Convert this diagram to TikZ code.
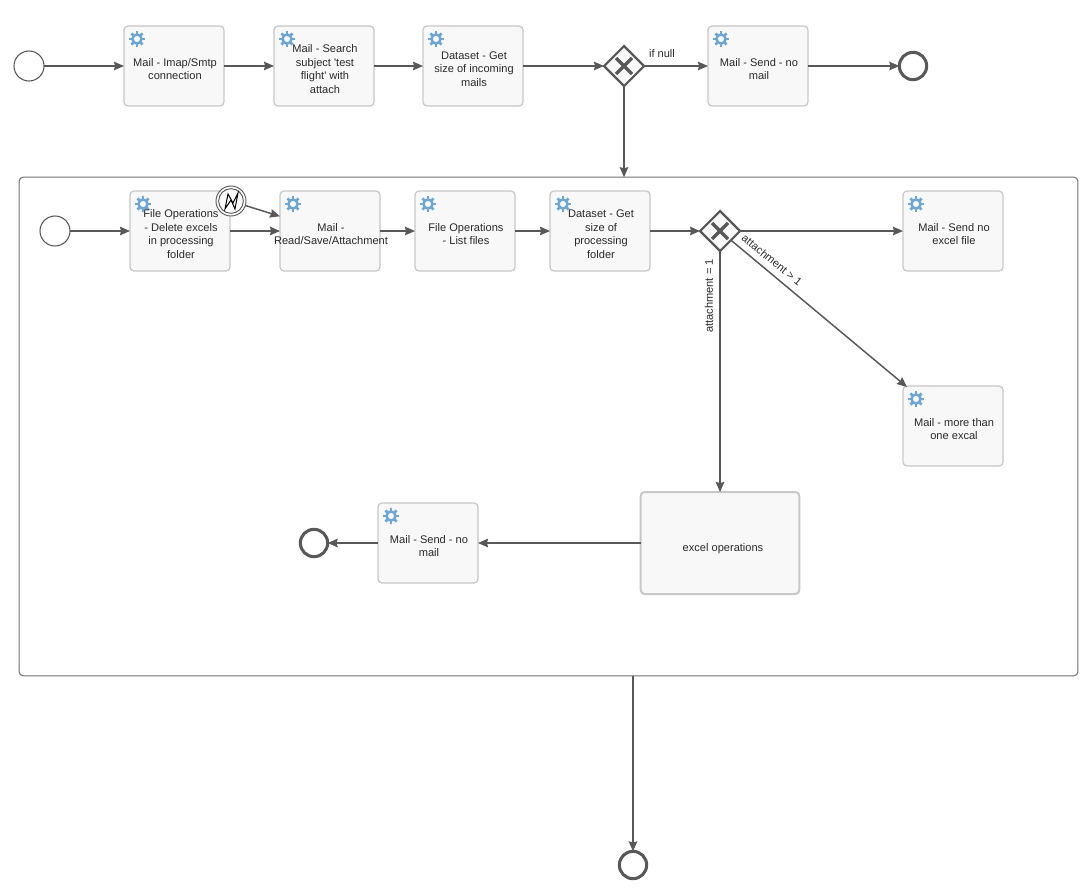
\documentclass[tikz,border=0pt]{standalone}
\usepackage{fontspec}
\setmainfont{Liberation Sans}
\usetikzlibrary{arrows.meta}
\usetikzlibrary{shapes.geometric}

\definecolor{flowline}{HTML}{585858}
\definecolor{taskline}{HTML}{C8C8C8}
\definecolor{taskfill}{HTML}{F8F8F8}
\definecolor{gearblue}{HTML}{6FA6D2}
\definecolor{inktext}{HTML}{2A2A2A}

% one task: frame, gear, text
\newcommand{\tasknode}[3]{
\node[task] (#1) at (#2) {};
\draw[gear] ([shift={(-37,-27)}]#1.center) circle (3.4pt);
\foreach \ang in {0,45,...,315}
  \draw[gear, line width=2.1pt] ([shift={(-37,-27)}]#1.center) ++(\ang:3.2pt) -- ++(\ang:2.7pt);
\node[tasktext] (#1text) at ([shift={(1,3)}]#1.center) {#3};
}

\begin{document}
\begin{tikzpicture}[
x=0.75pt, y=-0.75pt,
flow/.style={-{Stealth[length=7.5pt, width=6.4pt, inset=0.8pt]}, line width=1.1pt, flowline},
task/.style={draw=taskline, fill=taskfill, line width=0.95pt, rounded corners=3pt, minimum width=75pt, minimum height=60pt, inner sep=0pt, outer sep=0pt},
gear/.style={draw=gearblue, line width=1.9pt},
tasktext/.style={align=center, font=\fontsize{8.3}{10.1}\selectfont, text=inktext, inner sep=0pt},
edgetext/.style={font=\fontsize{8.3}{10.1}\selectfont, text=inktext, inner sep=0pt},
startev/.style={circle, draw=flowline, fill=white, line width=0.8pt, minimum size=22.5pt, inner sep=0pt, outer sep=0pt},
endev/.style={circle, draw=flowline, fill=white, line width=2.3pt, minimum size=20.5pt, inner sep=0pt, outer sep=0pt},
gate/.style={diamond, aspect=1, draw=flowline, fill=taskfill, line width=1.6pt, minimum size=30pt, inner sep=0pt, outer sep=0pt},
gatex/.style={draw=flowline, line width=2.6pt}
]
\useasboundingbox (0,0) rectangle (1091,893);

% outer box
\node[draw=flowline!85, fill=white, line width=0.8pt, rounded corners=3pt, minimum width=794pt, minimum height=374pt, inner sep=0pt, outer sep=0pt] (sub) at (548.5,426.5) {};

% top row
\node[startev] (start) at (29,66) {};
\tasknode{imap}{174,66}{Mail - Imap/Smtp\\connection}
\tasknode{search}{324,66}{Mail - Search\\subject \textquotesingle test\\flight\textquotesingle{} with\\attach}
\tasknode{incoming}{473,66}{Dataset - Get\\size of incoming\\mails}
\node[gate] (gwtop) at (624,66) {};
\draw[gatex] ([shift={(-8,-8)}]gwtop.center) -- ([shift={(8,8)}]gwtop.center);
\draw[gatex] ([shift={(-8,8)}]gwtop.center) -- ([shift={(8,-8)}]gwtop.center);
\tasknode{nomailtop}{758,66}{Mail - Send - no\\mail}
\node[endev] (endtop) at (913,66) {};

\draw[flow] (start) -- (imap);
\draw[flow] (imap) -- (search);
\draw[flow] (search) -- (incoming);
\draw[flow] (incoming) -- (gwtop);
\draw[flow] (gwtop) -- (nomailtop);
\node[edgetext] (ifnull) at (662,54) {if null};
\draw[flow] (nomailtop) -- (endtop);
\draw[flow] (gwtop) -- (sub.north -| gwtop);

% inside the box
\node[startev] (startin) at (55,231) {};
\tasknode{delete}{180,231}{File Operations\\- Delete excels\\in processing\\folder}
\tasknode{attach}{330,231}{Mail -\\Read/Save/Attachment}
\tasknode{list}{465,231}{File Operations\\- List files}
\tasknode{procsize}{600,231}{Dataset - Get\\size of\\processing\\folder}
\node[gate] (gwin) at (720,231) {};
\draw[gatex] ([shift={(-8,-8)}]gwin.center) -- ([shift={(8,8)}]gwin.center);
\draw[gatex] ([shift={(-8,8)}]gwin.center) -- ([shift={(8,-8)}]gwin.center);
\tasknode{noexcel}{953,231}{Mail - Send no\\excel file}
\tasknode{morethan}{953,426}{Mail - more than\\one excal}
\node[task, line width=1.5pt, minimum width=119pt, minimum height=76.5pt] (excel) at (720,543) {};
\node[tasktext] (exceltext) at ([shift={(3,5.5)}]excel.center) {excel operations};
\tasknode{nomailin}{428,543}{Mail - Send - no\\mail}
\node[endev] (endin) at (314,543) {};

% error event on the task corner
\node[circle, draw=flowline, fill=white, line width=0.7pt, minimum size=22.5pt, inner sep=0pt, outer sep=0pt] (errev) at (231,201) {};
\node[circle, draw=flowline, line width=0.7pt, minimum size=18.5pt, inner sep=0pt] (errin) at (231,201) {};
\draw[black, line width=0.75pt, line join=miter, fill=white] ([shift={(-6,8)}]errev.center) -- ([shift={(-3,-7)}]errev.center) -- ([shift={(2,2)}]errev.center) -- ([shift={(7,-8)}]errev.center) -- ([shift={(4,8)}]errev.center) -- ([shift={(0,-1)}]errev.center) -- cycle;

\draw[flow] (startin) -- (delete);
\draw[flow] (delete) -- (attach);
\draw[flow] (errev) -- ([yshift=11pt]attach.west);
\draw[flow] (attach) -- (list);
\draw[flow] (list) -- (procsize);
\draw[flow] (procsize) -- (gwin);
\draw[flow] (gwin) -- (noexcel);
\draw[flow] (gwin) -- ([shift={(4,1)}]morethan.north west);
\draw[flow] (gwin) -- (excel);
\draw[flow] (excel) -- (nomailin);
\draw[flow] (nomailin) -- (endin);

\node[edgetext, rotate=90] (attone) at (709,296) {attachment = 1};
\node[edgetext, rotate=-39] (attmore) at (772,260) {attachment > 1};

% below the box
\node[endev] (endbottom) at (633,865) {};
\draw[flow] (sub.south -| endbottom) -- (endbottom);
\end{tikzpicture}
\end{document}
